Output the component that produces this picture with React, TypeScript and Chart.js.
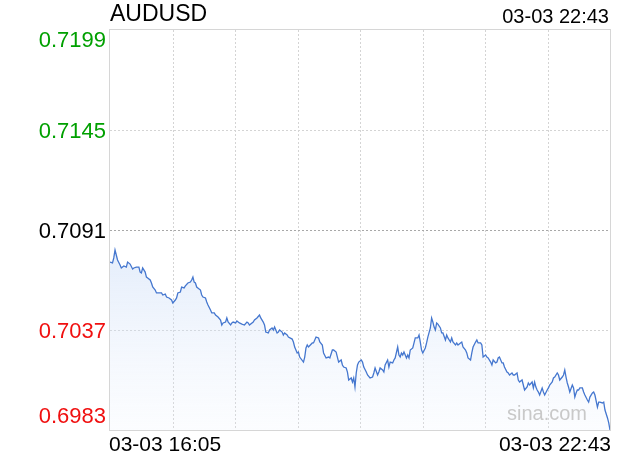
import { useEffect, useRef } from "react";
import { Chart, registerables } from "chart.js";

Chart.register(...registerables);

const symbol = "AUDUSD";
const startLabel = "03-03 16:05";
const endLabel = "03-03 22:43";
const lastUpdate = "03-03 22:43";
const watermark = "sina.com";
const totalMinutes = 398;
const yTicks = [0.6983, 0.7037, 0.7091, 0.7145, 0.7199];
const prevClose = 0.7091;

// minutes since 16:05
const minutes = [
  0, 2, 3, 4, 5, 6, 8, 9, 11, 13, 14, 16, 18, 19, 21, 23, 24, 25, 26, 28, 29, 30, 32, 33, 34, 36, 37, 39, 41, 42,
  44, 45, 47, 49, 50, 52, 53, 54, 56, 57, 59, 60, 62, 64, 65, 66, 67, 68, 69, 72, 73, 74, 76, 77, 78, 80, 81, 83, 84, 86,
  88, 89, 90, 92, 93, 94, 96, 97, 98, 100, 101, 103, 105, 107, 109, 110, 111, 114, 115, 117, 119, 120, 122, 123, 124, 126, 127, 129, 130, 131,
  133, 134, 135, 137, 138, 139, 141, 142, 145, 146, 147, 149, 150, 151, 154, 155, 156, 157, 158, 161, 162, 164, 166, 167, 169, 170, 172, 174, 175, 177,
  178, 180, 181, 182, 184, 185, 186, 188, 189, 190, 192, 193, 194, 195, 196, 197, 198, 200, 201, 202, 204, 205, 207, 209, 210, 211, 213, 214, 215, 217,
  218, 219, 221, 222, 223, 225, 226, 227, 229, 230, 231, 232, 233, 234, 236, 237, 238, 239, 241, 242, 243, 245, 246, 247, 248, 249, 251, 252, 253, 255,
  256, 257, 258, 259, 260, 261, 263, 264, 265, 267, 268, 269, 271, 272, 273, 275, 276, 277, 279, 280, 281, 283, 284, 285, 287, 288, 289, 291, 292, 293,
  295, 296, 297, 299, 300, 301, 303, 304, 305, 307, 308, 309, 310, 312, 313, 314, 316, 317, 318, 320, 321, 322, 324, 325, 326, 328, 329, 330, 332, 333,
  334, 336, 337, 338, 339, 340, 341, 342, 344, 345, 346, 348, 349, 350, 352, 353, 354, 356, 357, 358, 360, 361, 362, 363, 364, 365, 366, 368, 369, 370,
  371, 372, 373, 374, 376, 377, 378, 380, 381, 382, 384, 385, 386, 388, 389, 390, 392, 393, 394, 396, 397, 398,
];

const prices = [
  0.70737, 0.70732, 0.70759, 0.70802, 0.70775, 0.70748, 0.70721, 0.70705, 0.70716, 0.7071, 0.70737, 0.70726, 0.70699, 0.70705, 0.7071, 0.7071, 0.70683, 0.70678, 0.70705, 0.70683, 0.70656, 0.70651, 0.7064, 0.70624, 0.70602, 0.70586, 0.7057, 0.7057, 0.7057, 0.70559,
  0.70564, 0.70548, 0.70543, 0.70532, 0.70516, 0.70532, 0.70543, 0.7057, 0.70575, 0.70602, 0.70597, 0.70608, 0.70624, 0.70629, 0.7064, 0.70656, 0.70629, 0.70624, 0.70602, 0.70586, 0.70559, 0.70548, 0.70543, 0.70521, 0.70505, 0.70478, 0.70462, 0.70462, 0.70451, 0.7044,
  0.70424, 0.70397, 0.70408, 0.70413, 0.70435, 0.70413, 0.70397, 0.70408, 0.70413, 0.70408, 0.70419, 0.70408, 0.70402, 0.70397, 0.70413, 0.70408, 0.70397, 0.70413, 0.70424, 0.70435, 0.70451, 0.70435, 0.70413, 0.70397, 0.70359, 0.70354, 0.7037, 0.70381, 0.7037, 0.70386,
  0.70354, 0.70359, 0.7037, 0.70359, 0.70343, 0.70354, 0.70343, 0.70332, 0.70321, 0.70305, 0.70278, 0.70246, 0.70251, 0.70224, 0.70197, 0.70224, 0.70273, 0.70289, 0.70278, 0.703, 0.703, 0.70332, 0.70327, 0.70305, 0.70289, 0.70246, 0.70219, 0.70224, 0.70219, 0.70262,
  0.70262, 0.70251, 0.70224, 0.70197, 0.70208, 0.70181, 0.7017, 0.70165, 0.70143, 0.701, 0.70111, 0.70089, 0.70111, 0.70062, 0.70138, 0.70181, 0.70197, 0.70208, 0.70197, 0.7017, 0.70143, 0.70127, 0.70111, 0.70116, 0.70138, 0.70165, 0.70127, 0.70143, 0.70165, 0.70154,
  0.70143, 0.70181, 0.70208, 0.7017, 0.70197, 0.70192, 0.70208, 0.70219, 0.70278, 0.70235, 0.70224, 0.70246, 0.70235, 0.70251, 0.70219, 0.70235, 0.70219, 0.70262, 0.70273, 0.703, 0.70327, 0.70327, 0.70343, 0.70305, 0.70262, 0.70246, 0.70273, 0.703, 0.70332, 0.70381,
  0.70435, 0.70413, 0.70386, 0.7037, 0.70408, 0.70402, 0.70381, 0.70354, 0.70354, 0.70316, 0.70343, 0.70327, 0.70305, 0.70327, 0.70305, 0.70289, 0.703, 0.70289, 0.703, 0.70305, 0.70278, 0.70262, 0.70246, 0.70219, 0.70208, 0.70246, 0.70278, 0.70305, 0.70316, 0.703,
  0.703, 0.70289, 0.70224, 0.70235, 0.70224, 0.70219, 0.70197, 0.70181, 0.70208, 0.70192, 0.70197, 0.70219, 0.70224, 0.70192, 0.70192, 0.7017, 0.70143, 0.70138, 0.70127, 0.70138, 0.70127, 0.70127, 0.70138, 0.701, 0.70089, 0.701, 0.70073, 0.70046, 0.70062, 0.70084,
  0.70073, 0.70089, 0.70057, 0.70089, 0.70062, 0.70046, 0.70035, 0.70019, 0.70057, 0.70035, 0.70019, 0.70046, 0.70057, 0.70073, 0.70089, 0.70111, 0.70116, 0.70138, 0.70127, 0.701, 0.70116, 0.70127, 0.70154, 0.70116, 0.70084, 0.70062, 0.70035, 0.70073, 0.70057, 0.70008,
  0.7003, 0.70046, 0.70046, 0.70057, 0.70057, 0.70035, 0.70019, 0.69992, 0.69981, 0.70008, 0.7003, 0.70035, 0.70019, 0.69954, 0.69981, 0.69981, 0.69976, 0.69981, 0.69938, 0.69895, 0.69868, 0.6983,
];

const FONT = "'Liberation Sans', Arial, Helvetica, sans-serif";

function labelColor(v: number): string {
  if (Math.abs(v - prevClose) < 1e-7) return "#000000";
  return v > prevClose ? "#00a000" : "#f01010";
}

export default function App() {
  const ref = useRef<HTMLCanvasElement>(null);

  useEffect(() => {
    const canvas = ref.current;
    if (!canvas) return;

    const framePlugin = {
      id: "frame",
      beforeDatasetsDraw(chart: any) {
        const { ctx, chartArea: a, scales } = chart;
        const xs = scales.x;
        const ys = scales.y;
        ctx.save();
        ctx.lineWidth = 1;
        // vertical dotted grid
        ctx.setLineDash([2, 2]);
        ctx.strokeStyle = "#d4d4d4";
        xs.ticks.forEach((t: any, i: number) => {
          if (i === 0 || i === xs.ticks.length - 1) return;
          const px = Math.round(xs.getPixelForValue(t.value)) + 0.5;
          ctx.beginPath();
          ctx.moveTo(px, a.top);
          ctx.lineTo(px, a.bottom);
          ctx.stroke();
        });
        // horizontal dotted grid
        ys.ticks.forEach((t: any, i: number) => {
          if (i === 0 || i === ys.ticks.length - 1) return;
          const py = Math.round(ys.getPixelForValue(t.value)) + 0.5;
          const isPrev = Math.abs(t.value - prevClose) < 1e-7;
          ctx.strokeStyle = isPrev ? "#a8a8a8" : "#d4d4d4";
          ctx.beginPath();
          ctx.moveTo(a.left, py);
          ctx.lineTo(a.right, py);
          ctx.stroke();
        });
        ctx.setLineDash([]);
        // frame
        ctx.strokeStyle = "#d6d6d6";
        ctx.strokeRect(Math.round(a.left) - 0.5, Math.round(a.top) - 0.5, Math.round(a.right - a.left) + 1, Math.round(a.bottom - a.top) + 1);
        ctx.restore();
      },
      afterDatasetsDraw(chart: any) {
        const { ctx } = chart;
        ctx.save();
        ctx.fillStyle = "#c9c9c9";
        ctx.font = `20px ${FONT}`;
        ctx.textAlign = "left";
        ctx.textBaseline = "alphabetic";
        ctx.fillText(watermark, 507, 420);
        ctx.restore();
      },
      afterDraw(chart: any) {
        const { ctx, chartArea: a, scales } = chart;
        const ys = scales.y;
        ctx.save();
        ctx.font = `22px ${FONT}`;
        ctx.textAlign = "right";
        ctx.textBaseline = "alphabetic";
        const n = ys.ticks.length;
        ys.ticks.forEach((t: any, i: number) => {
          const py = ys.getPixelForValue(t.value);
          let by = py + 8;
          if (i === n - 1) by = py + 17;
          if (i === 0) by = py - 7;
          ctx.fillStyle = labelColor(t.value);
          ctx.fillText(t.value.toFixed(4), a.left - 4, by);
        });
        ctx.restore();
      },
    };

    const chart = new Chart(canvas, {
      type: "line",
      data: {
        datasets: [
          {
            label: symbol,
            data: minutes.map((m, i) => ({ x: m, y: prices[i] })),
            borderColor: "#4577cf",
            borderWidth: 1.3,
            pointRadius: 0,
            tension: 0,
            fill: "start",
            backgroundColor: (context: any) => {
              const c = context.chart;
              const area = c.chartArea;
              if (!area) return "rgba(200,218,245,0.4)";
              const top = c.scales.y.getPixelForValue(Math.max(...prices));
              const g = c.ctx.createLinearGradient(0, top, 0, area.bottom);
              g.addColorStop(0, "rgba(196,216,246,0.45)");
              g.addColorStop(1, "rgba(230,238,252,0.15)");
              return g;
            },
          },
        ],
      },
      options: {
        responsive: false,
        animation: false,
        events: [],
        layout: { padding: { left: 110, right: 10, top: 30, bottom: 30 } },
        plugins: {
          legend: { display: false },
          title: { display: false },
          tooltip: { enabled: false },
        },
        scales: {
          x: {
            type: "linear",
            min: 0,
            max: totalMinutes,
            grid: { display: false, drawTicks: false },
            border: { display: false },
            ticks: { display: false },
            afterBuildTicks: (scale: any) => {
              scale.ticks = Array.from({ length: 9 }, (_, i) => ({ value: (i * totalMinutes) / 8 }));
            },
            afterFit: (scale: any) => {
              scale.height = 0;
            },
          },
          y: {
            type: "linear",
            min: yTicks[0],
            max: yTicks[yTicks.length - 1],
            grid: { display: false, drawTicks: false },
            border: { display: false },
            ticks: { display: false },
            afterBuildTicks: (scale: any) => {
              scale.ticks = yTicks.map((v) => ({ value: v }));
            },
            afterFit: (scale: any) => {
              scale.width = 0;
            },
          },
        },
      },
      plugins: [framePlugin],
    });

    return () => chart.destroy();
  }, []);

  const textBase: any = { position: "absolute", fontFamily: FONT, color: "#000", whiteSpace: "nowrap" };

  return (
    <div style={{ position: "fixed", left: 0, top: 0, width: 620, height: 460, background: "#fff" }}>
      <canvas ref={ref} width={620} height={460} style={{ position: "absolute", left: 0, top: 0, width: 620, height: 460 }} />
      <div style={{ ...textBase, left: 110, top: 0, fontSize: 23, lineHeight: "26px" }}>{symbol}</div>
      <div style={{ ...textBase, right: 11, top: 5, fontSize: 20, lineHeight: "23px" }}>{lastUpdate}</div>
      <div style={{ ...textBase, left: 109, top: 432, fontSize: 21, lineHeight: "24px" }}>{startLabel}</div>
      <div style={{ ...textBase, right: 9, top: 432, fontSize: 21, lineHeight: "24px" }}>{endLabel}</div>
    </div>
  );
}
